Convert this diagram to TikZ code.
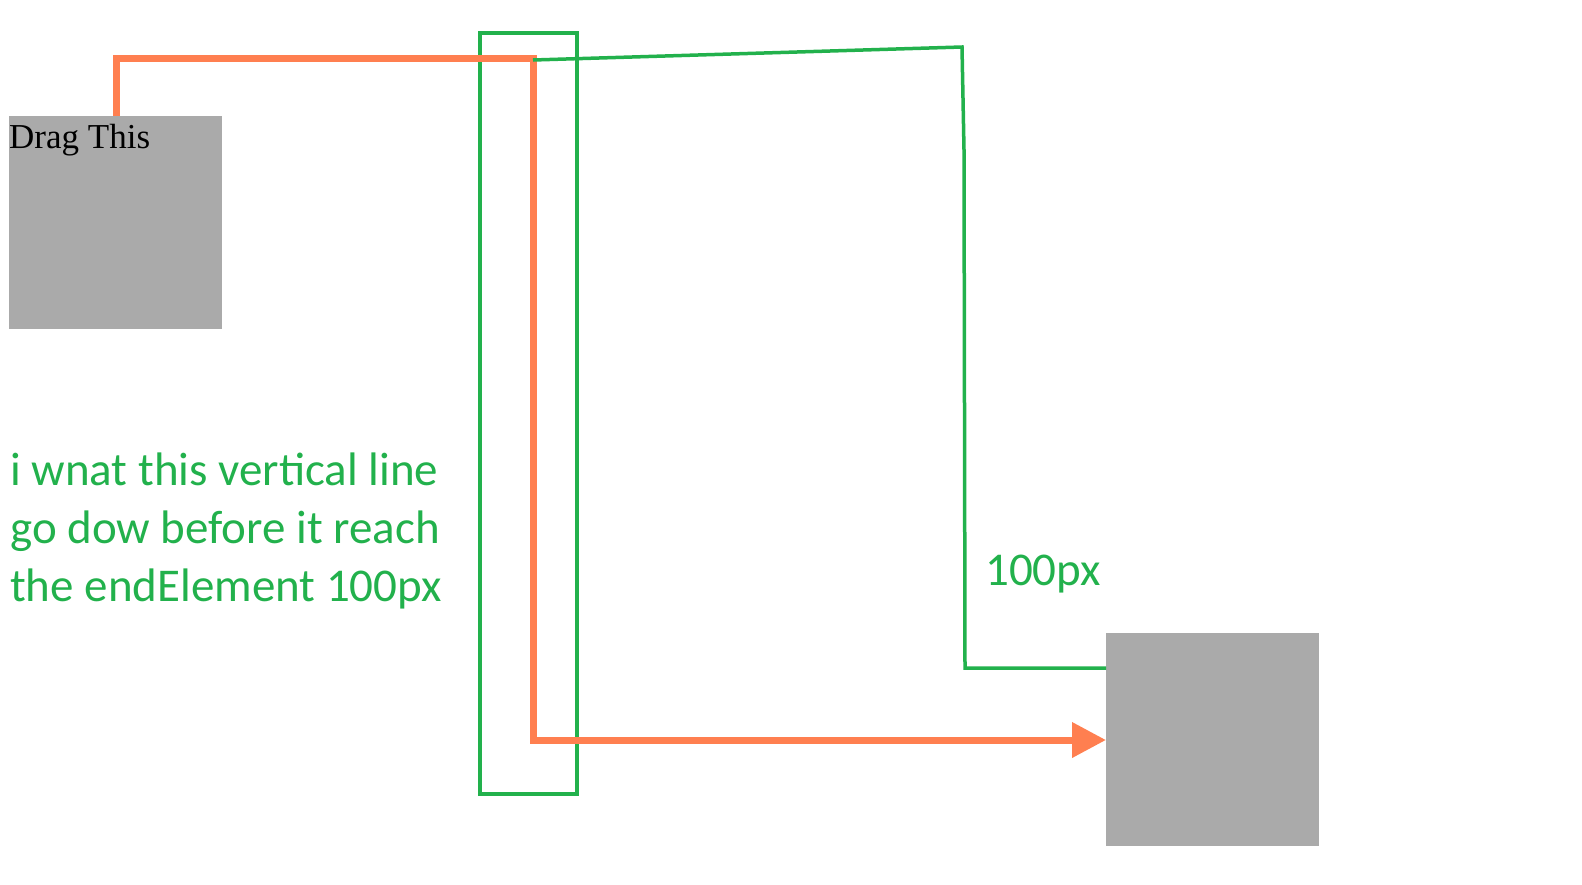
\documentclass[tikz,border=0pt]{standalone}
\usepackage{fontspec}
\setmainfont{Liberation Serif}
\newfontfamily\carfont{Carlito}
\usetikzlibrary{arrows.meta}
\definecolor{org}{HTML}{FF7F50}
\definecolor{grn}{HTML}{22B14C}
\definecolor{gry}{HTML}{AAAAAA}
\tikzset{box/.style={fill=gry,draw=none,minimum width=213pt,minimum height=213pt,inner sep=0pt},
 lab/.style={text=grn,font=\carfont\fontsize{47}{58}\selectfont,anchor=base west,inner sep=0pt}}
\begin{document}
\begin{tikzpicture}[x=1pt,y=-1pt]
\useasboundingbox (0,0) rectangle (1582,884);
\node[box,anchor=north west] (s) at (9,116) {};
\node[box,anchor=north west] (e) at (1106,633) {};
\node[anchor=base west,inner sep=0pt,font=\fontsize{35}{40}\selectfont] (dt) at (9,148) {Drag This};
\draw[grn,line width=3.5] (480,33) rectangle (577,794);
\coordinate (o1) at (116,58); \coordinate (o2) at (533,58); \coordinate (o3) at (533,740);
\draw[org,line width=7,-{Triangle[length=34pt,width=34pt]}] (s.north -| o1) -- (o1) -- (o2) -- (o3) -- (e.west |- o3);
\coordinate (g1) at (533,60); \coordinate (g2) at (962,47); \coordinate (g3) at (964,150); \coordinate (g4) at (965,668);
\draw[grn,line width=3.5] (g1) -- (g2) -- (g3) -- (g4) -- (e.west |- g4);
\node[lab] (t1) at (10,485) {i wnat this vertical line};
\node[lab] (t2) at (10,543) {go dow before it reach};
\node[lab] (t3) at (10,601) {the endElement 100px};
\node[lab] (p) at (985,585) {100px};
\end{tikzpicture}
\end{document}
